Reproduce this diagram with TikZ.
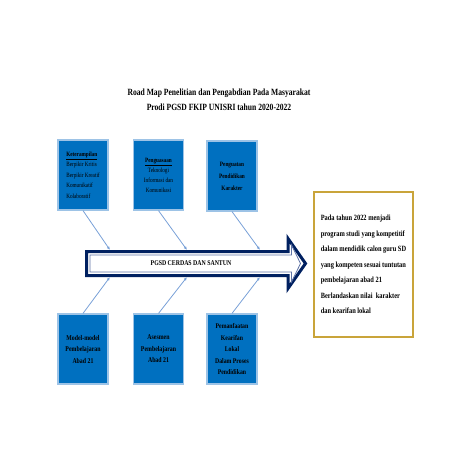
\documentclass[tikz,border=0pt]{standalone}
\usepackage{fontspec}
\setmainfont{Liberation Serif}
\newfontfamily\narrowfont[FakeStretch=0.8]{Liberation Serif}
\usetikzlibrary{positioning,arrows.meta}
\definecolor{boxblue}{RGB}{0,112,192}
\definecolor{edgeblue}{RGB}{157,195,230}
\definecolor{linkblue}{RGB}{120,160,215}
\definecolor{spinenavy}{RGB}{0,32,96}
\definecolor{spineinner}{RGB}{95,115,165}
\definecolor{goldedge}{RGB}{201,164,58}
\newcommand{\fsz}[2]{\narrowfont\fontsize{#1}{#2}\selectfont}

\begin{document}
\begin{tikzpicture}[x=1pt,y=-1pt,>=latex,
    fishbox/.style={draw=edgeblue,fill=boxblue,line width=1.2pt,minimum width=50pt,minimum height=70pt,inner sep=1pt,align=center},
    link/.style={-{Latex[length=3.5pt,width=3pt]},draw=linkblue,line width=0.8pt},
    spine/.style={draw=spinenavy,line width=3pt,line join=miter,fill=white},
    spineline/.style={draw=spineinner,line width=0.8pt,line join=miter}]
    \useasboundingbox (0,0) rectangle (453,453);
    % title
    \node[font=\fsz{9.5}{15}\bfseries,align=center] (title) at (219,100) {Road Map Penelitian dan Pengabdian Pada Masyarakat\\Prodi PGSD FKIP UNISRI tahun 2020-2022};
    % upper boxes
    \node[fishbox,font=\fsz{6.5}{10.5},align=left] (skill) at (83,175) {\underline{\textbf{Keterampilan}}\\Berpikir Kritis\\Berpikir Kreatif\\Komunikatif\\Kolaboratif};
    \node[fishbox,font=\fsz{6.5}{10}] (tik) at (158.5,175) {\underline{\textbf{Penguasaan}}\\Teknologi\\Informasi dan\\Komunikasi};
    \node[fishbox,font=\fsz{6.6}{12}\bfseries] (ppk) at (232,176) {Penguatan\\Pendidikan\\Karakter};
    % lower boxes
    \node[fishbox,font=\fsz{7.3}{11.5}\bfseries] (model) at (83,349) {Model-model\\Pembelajaran\\Abad 21};
    \node[fishbox,font=\fsz{7.3}{11.5}\bfseries] (asesmen) at (158.5,349) {Asesmen\\Pembelajaran\\Abad 21};
    \node[fishbox,font=\fsz{7.2}{11.5}\bfseries] (lokal) at (232,349) {Pemanfaatan\\Kearifan\\Lokal\\Dalam Proses\\Pendidikan};
    % main arrow
    \draw[spine] (86.5,251.5) -- (288,251.5) -- (288,238.5) -- (305.5,263.5) -- (288,288.5) -- (288,275.5) -- (86.5,275.5) -- cycle;
    \draw[spineline] (90,255) -- (291.5,255) -- (291.5,245) -- (300.5,263.5) -- (291.5,282) -- (291.5,272) -- (90,272) -- cycle;
    \node[font=\fsz{7.3}{9}\bfseries] (spinetext) at (191,263.5) {PGSD CERDAS DAN SANTUN};
    \coordinate (t1) at (110,250);
    \coordinate (t2) at (187,250);
    \coordinate (t3) at (260,250);
    \coordinate (b1) at (110,277);
    \coordinate (b2) at (187,277);
    \coordinate (b3) at (260,277);
    % goal box
    \node[draw=goldedge,fill=white,line width=1.8pt,minimum width=99pt,minimum height=145pt,align=left,font=\fsz{8}{15.5}\bfseries] (goal) at (363.5,264.5) {Pada tahun 2022 menjadi\\program studi yang kompetitif\\dalam mendidik calon guru SD\\yang kompeten sesuai tuntutan\\pembelajaran abad 21\\Berlandaskan nilai\ \ karakter\\dan kearifan lokal};
    % connectors
    \draw[link] (skill.south) -- (t1);
    \draw[link] (tik.south) -- (t2);
    \draw[link] (ppk.south) -- (t3);
    \draw[link] (model.north) -- (b1);
    \draw[link] (asesmen.north) -- (b2);
    \draw[link] (lokal.north) -- (b3);
\end{tikzpicture}
\end{document}
